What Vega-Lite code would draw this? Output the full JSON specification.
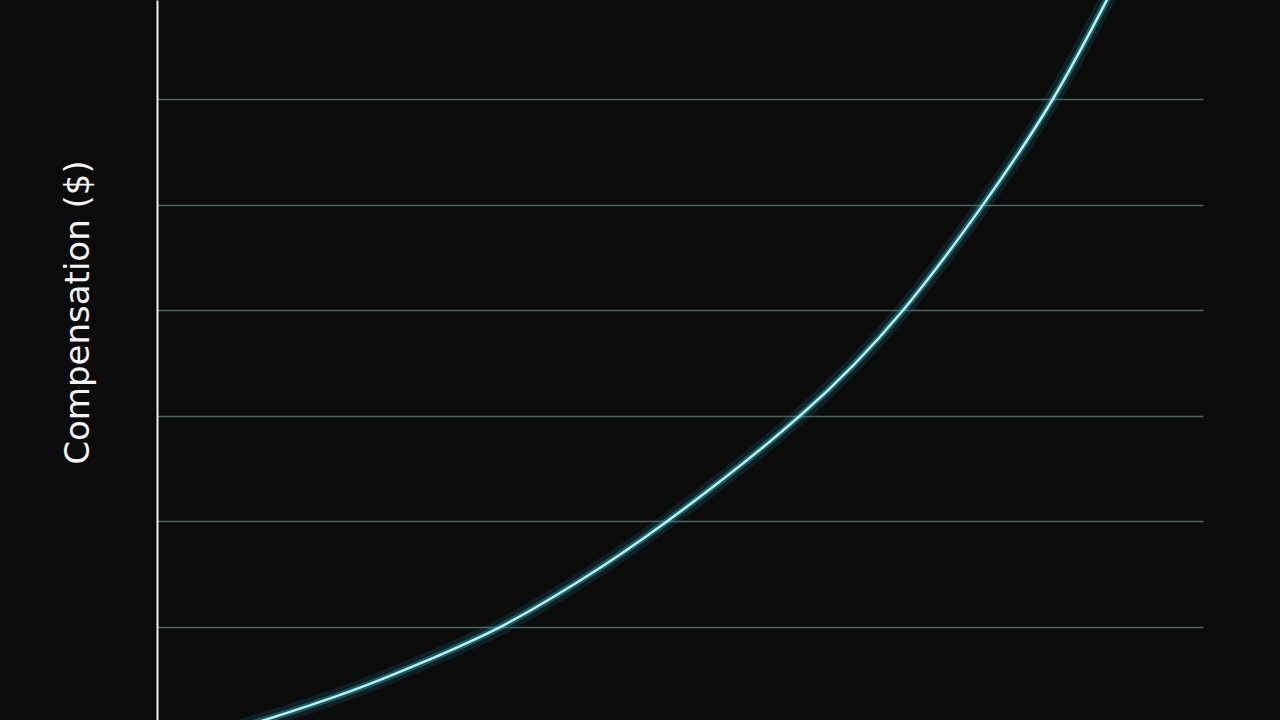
{
  "$schema": "https://vega.github.io/schema/vega-lite/v6.json",
  "width": 1046,
  "height": 720,
  "autosize": {"type": "none"},
  "padding": {"left": 157, "top": 0, "right": 77, "bottom": 0},
  "background": "#0b0b0c",
  "data": {
    "values": [
      {"years": 2.22, "comp": -0.35},
      {"years": 4.13, "comp": 2.4},
      {"years": 7.38, "comp": 7.8},
      {"years": 10.06, "comp": 13.1},
      {"years": 13.12, "comp": 20.0},
      {"years": 16.18, "comp": 28.8},
      {"years": 19.5, "comp": 40.0},
      {"years": 24.59, "comp": 60.0},
      {"years": 28.53, "comp": 80.0},
      {"years": 31.59, "comp": 100.0},
      {"years": 34.26, "comp": 120.0},
      {"years": 36.33, "comp": 138.8},
      {"years": 37.02, "comp": 145.0}
    ]
  },
  "encoding": {
    "x": {
      "field": "years",
      "type": "quantitative",
      "scale": {"domain": [0, 40], "nice": false},
      "axis": null
    },
    "y": {
      "field": "comp",
      "type": "quantitative",
      "scale": {"domain": [2.39, 138.75], "nice": false, "zero": false},
      "axis": {
        "title": "Compensation ($)",
        "values": [20, 40, 60, 80, 100, 120],
        "labels": false,
        "ticks": false,
        "grid": true,
        "gridColor": "#48665f",
        "gridWidth": 1.5,
        "domain": true,
        "domainColor": "#f0f0f0",
        "domainWidth": 2,
        "titleFont": "DejaVu Sans",
        "titleFontWeight": "normal",
        "titleFontSize": 34,
        "titleColor": "#f4f4f4",
        "titleAngle": -90,
        "titleAlign": "center",
        "titleBaseline": "middle",
        "titleX": -79,
        "titleY": 312
      }
    }
  },
  "layer": [
    {"mark": {"type": "line", "interpolate": "natural", "clip": true, "color": "#1f8f9c", "strokeWidth": 16, "opacity": 0.16}},
    {"mark": {"type": "line", "interpolate": "natural", "clip": true, "color": "#3cc0cc", "strokeWidth": 7, "opacity": 0.35}},
    {"mark": {"type": "line", "interpolate": "natural", "clip": true, "color": "#b4f2f5", "strokeWidth": 2.5}}
  ],
  "config": {
    "view": {"stroke": null}
  }
}
